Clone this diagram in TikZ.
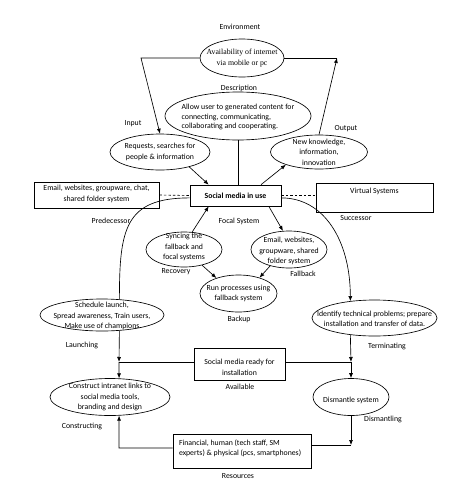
\documentclass[tikz,border=0pt]{standalone}
\usepackage{fontspec}
\setmainfont{Carlito}
\newfontfamily\serifenv{Liberation Serif}
\usetikzlibrary{shapes.geometric,arrows.meta,calc}
\begin{document}
\begin{tikzpicture}[x=1pt,y=-1pt,
  line width=0.65pt,
  ell/.style={draw, ellipse, inner sep=0pt},
  rbox/.style={draw, rectangle, inner sep=0pt},
  txt/.style={font=\fontsize{7.8}{10.5}\selectfont, align=center, inner sep=0pt},
  lbl/.style={font=\fontsize{7.8}{10.5}\selectfont, inner sep=0pt},
  arr/.style={-{Latex[length=5pt,width=4pt]}},
  dsh/.style={dash pattern=on 2.5pt off 2pt}]
\useasboundingbox (0,0) rectangle (474,498);
\fill[white] (0,0) rectangle (474,498);

% ellipses and boxes
\node[ell, minimum width=84, minimum height=38,
  label={[txt,font=\serifenv\fontsize{7.8}{10.5}\selectfont]center:Availability of internet\\via mobile or pc}] (env) at (242,58) {};
\node[ell, minimum width=146, minimum height=48,
  label={[txt,align=left,yshift=-1pt,font=\fontsize{7.8}{9.5}\selectfont]center:Allow user to generated content for\\connecting, communicating,\\collaborating and cooperating.}] (desc) at (238,116) {};
\node[ell, minimum width=100, minimum height=36,
  label={[txt]center:Requests, searches for\\people \& information}] (req) at (160,152) {};
\node[ell, minimum width=97, minimum height=34,
  label={[txt]center:New knowledge,\\information,\\innovation}] (out) at (319,152) {};
\node[rbox, minimum width=91, minimum height=21, font=\bfseries\fontsize{7.8}{10.5}\selectfont] (sm) at (235.5,195.5) {Social media in use};
\node[rbox, minimum width=125, minimum height=26,
  label={[txt,yshift=1pt]center:Email, websites, groupware, chat,\\shared folder system}] (pred) at (96.5,195) {};
\node[rbox, minimum width=117, minimum height=29,
  label={[lbl,anchor=north,yshift=-5pt]north:Virtual Systems}] (succ) at (374.5,197.5) {};
\node[ell, minimum width=76, minimum height=35,
  label={[txt,yshift=2.5pt]center:Syncing the\\fallback and\\focal systems}] (sync) at (184,249.5) {};
\node[ell, minimum width=76, minimum height=37,
  label={[txt,yshift=-1.5pt]center:Email, websites,\\groupware, shared\\folder system}] (fb) at (289,249.5) {};
\node[ell, minimum width=77, minimum height=37,
  label={[txt]center:Run processes using\\fallback system}] (run) at (238.5,293.5) {};
\node[ell, minimum width=124, minimum height=32,
  label={[txt,yshift=-1pt]center:Schedule launch,\\Spread awareness, Train users,\\Make use of champions}] (sched) at (102,315) {};
\node[ell, minimum width=125, minimum height=36,
  label={[txt,yshift=-1pt]center:Identify technical problems; prepare\\installation and transfer of data.}] (ident) at (374.5,318) {};
\node[rbox, minimum width=91, minimum height=32,
  label={[txt,yshift=-3.5pt]center:Social media ready for\\installation}] (ready) at (239.5,364) {};
\node[ell, minimum width=120, minimum height=37,
  label={[txt]center:Construct intranet links to\\social media tools,\\branding and design}] (constr) at (110,397) {};
\node[ell, minimum width=76, minimum height=37,
  label={[lbl,yshift=-3pt]center:Dismantle system}] (dism) at (351,397) {};
\node[rbox, minimum width=138, minimum height=34,
  label={[txt,align=left,anchor=west,xshift=6pt,yshift=2.5pt]west:Financial, human (tech staff, SM\\experts) \& physical (pcs, smartphones)}] (res) at (242,451) {};

% plain labels
\node[lbl] (lenv) at (240,27) {Environment};
\node[lbl] (ldesc) at (239,88) {Description};
\node[lbl] (linput) at (133,124) {Input};
\node[lbl] (loutput) at (346,129) {Output};
\node[lbl] (lpred) at (111,221) {Predecessor};
\node[lbl] (lfocal) at (239,221) {Focal System};
\node[lbl] (lsucc) at (356,218) {Successor};
\node[lbl] (lrec) at (176,272) {Recovery};
\node[lbl] (lfb) at (303,274) {Fallback};
\node[lbl] (lbackup) at (239,319) {Backup};
\node[lbl] (llaunch) at (82,345) {Launching};
\node[lbl] (lterm) at (387,346) {Terminating};
\node[lbl] (lavail) at (240,387) {Available};
\node[lbl] (lconstr) at (82,426) {Constructing};
\node[lbl] (ldism) at (383,419) {Dismantling};
\node[lbl] (lres) at (238,476) {Resources};

% corner coordinates
\coordinate (ecl) at (141,58);
\coordinate (ecr) at (337,58);
\coordinate (jl) at (119,362);
\coordinate (jr) at (351,362);
\coordinate (bl) at (119,448);
\coordinate (br) at (351,445);

% connectors
\draw[arr] (env.west) -- (ecl) -- (req.north);
\draw[arr] (out.north) -- (ecr);
\draw (ecr) -- (env.east);
\draw (desc.south) -- (desc.south |- sm.north);
\draw[arr] (req.-27) -- (sm.158);
\draw[arr] (sm.23) -- (out.201);
\draw[dsh] (pred.east) -- (sm.west);
\draw[dsh] (sm.east) -- (sm.east -| succ.west);
\draw[arr] (sync.65) -- (sm.202);
\draw[arr] (sm.-18) -- (fb.108);
\draw[arr] (sync.-41) -- (run.145);
\draw[arr] (fb.221) -- (run.37);
\draw (sched.42) .. controls +(0,-70) and +(-65,0) .. (sm.183);
\draw[arr] (sm.-3) .. controls +(43,0) and +(0,-60) .. (ident.145);
\draw[arr] (sched.-42) -- (jl);
\draw[arr] (jl) -- (constr.64);
\draw (ready.west |- jl) -- (jl);
\draw[arr] (ident.215) -- (jr);
\draw[arr] (jr) -- (dism.north);
\draw (ready.east |- jr) -- (jr);
\draw[arr] (res.west |- bl) -- (bl) -- (constr.-64);
\draw[arr] (dism.south) -- (br);
\draw (br) -- (res.east |- br);
\end{tikzpicture}
\end{document}
